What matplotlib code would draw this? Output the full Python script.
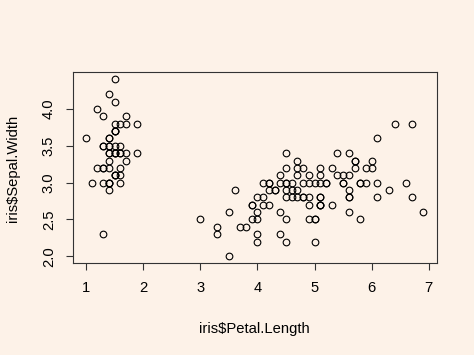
import numpy as np
import matplotlib.pyplot as plt

# -------------------------------------------------------
# Datos (iris: Petal.Length, Sepal.Width)
# -------------------------------------------------------

petal_length = [
    1.4, 1.4, 1.3, 1.5, 1.4, 1.7, 1.4, 1.5, 1.4, 1.5,
    1.5, 1.6, 1.4, 1.1, 1.2, 1.5, 1.3, 1.4, 1.7, 1.5,
    1.7, 1.5, 1.0, 1.7, 1.9, 1.6, 1.6, 1.5, 1.4, 1.6,
    1.6, 1.5, 1.5, 1.4, 1.5, 1.2, 1.3, 1.4, 1.3, 1.5,
    1.3, 1.3, 1.3, 1.6, 1.9, 1.4, 1.6, 1.4, 1.5, 1.4,
    4.7, 4.5, 4.9, 4.0, 4.6, 4.5, 4.7, 3.3, 4.6, 3.9,
    3.5, 4.2, 4.0, 4.7, 3.6, 4.4, 4.5, 4.1, 4.5, 3.9,
    4.8, 4.0, 4.9, 4.7, 4.3, 4.4, 4.8, 5.0, 4.5, 3.5,
    3.8, 3.7, 3.9, 5.1, 4.5, 4.5, 4.7, 4.4, 4.1, 4.0,
    4.4, 4.6, 4.0, 3.3, 4.2, 4.2, 4.2, 4.3, 3.0, 4.1,
    6.0, 5.1, 5.9, 5.6, 5.8, 6.6, 4.5, 6.3, 5.8, 6.1,
    5.1, 5.3, 5.5, 5.0, 5.1, 5.3, 5.5, 6.7, 6.9, 5.0,
    5.7, 4.9, 6.7, 4.9, 5.7, 6.0, 4.8, 4.9, 5.6, 5.8,
    6.1, 6.4, 5.6, 5.1, 5.6, 6.1, 5.6, 5.5, 4.8, 5.4,
    5.6, 5.1, 5.1, 5.9, 5.7, 5.2, 5.0, 5.2, 5.4, 5.1,
]

sepal_width = [
    3.5, 3.0, 3.2, 3.1, 3.6, 3.9, 3.4, 3.4, 2.9, 3.1,
    3.7, 3.4, 3.0, 3.0, 4.0, 4.4, 3.9, 3.5, 3.8, 3.8,
    3.4, 3.7, 3.6, 3.3, 3.4, 3.0, 3.4, 3.5, 3.4, 3.2,
    3.1, 3.4, 4.1, 4.2, 3.1, 3.2, 3.5, 3.6, 3.0, 3.4,
    3.5, 2.3, 3.2, 3.5, 3.8, 3.0, 3.8, 3.2, 3.7, 3.3,
    3.2, 3.2, 3.1, 2.3, 2.8, 2.8, 3.3, 2.4, 2.9, 2.7,
    2.0, 3.0, 2.2, 2.9, 2.9, 3.1, 3.0, 2.7, 2.2, 2.5,
    3.2, 2.8, 2.5, 2.8, 2.9, 3.0, 2.8, 3.0, 2.9, 2.6,
    2.4, 2.4, 2.7, 2.7, 3.0, 3.4, 3.1, 2.3, 3.0, 2.5,
    2.6, 3.0, 2.6, 2.3, 2.7, 3.0, 2.9, 2.9, 2.5, 2.8,
    3.3, 2.7, 3.0, 2.9, 3.0, 3.0, 2.5, 2.9, 2.5, 3.6,
    3.2, 2.7, 3.0, 2.5, 2.8, 3.2, 3.0, 3.8, 2.6, 2.2,
    3.2, 2.8, 2.8, 2.7, 3.3, 3.2, 2.8, 3.0, 2.8, 3.0,
    2.8, 3.8, 2.8, 2.8, 2.6, 3.0, 3.4, 3.1, 3.0, 3.1,
    3.1, 3.1, 2.7, 3.2, 3.3, 3.0, 2.5, 3.0, 3.4, 3.0,
]

x_ticks = [1, 2, 3, 4, 5, 6, 7]
y_ticks = [2.0, 2.5, 3.0, 3.5, 4.0]

FONDO = "#fdf2e8"
TAM = 10.6

plt.rcParams["font.family"] = ["Liberation Sans", "DejaVu Sans"]

fig = plt.figure(figsize=(4.74, 3.55), dpi=100, facecolor=FONDO)
ax = fig.add_axes([0.153, 0.258, 0.768, 0.538], facecolor=FONDO)

x = np.array(petal_length)
y = np.array(sepal_width)

ax.plot(
    x,
    y,
    "o",
    markersize=4.8,
    markerfacecolor="none",
    markeredgecolor="black",
    markeredgewidth=0.8,
)

# límites al estilo R (4% extra)
dx = (x.max() - x.min()) * 0.04
dy = (y.max() - y.min()) * 0.04
ax.set_xlim(x.min() - dx, x.max() + dx)
ax.set_ylim(y.min() - dy, y.max() + dy)

ax.set_xticks(x_ticks)
ax.set_xticklabels([str(t) for t in x_ticks])
ax.set_yticks(y_ticks)
ax.set_yticklabels([f"{t:.1f}" for t in y_ticks], rotation=90, va="center")

ax.tick_params(
    direction="out",
    length=5,
    width=0.8,
    labelsize=TAM,
    color="#333333",
)
ax.tick_params(axis="x", pad=8)
ax.tick_params(axis="y", pad=7)

for s in ax.spines.values():
    s.set_linewidth(0.8)
    s.set_color("#333333")

ax.set_xlabel("iris$Petal.Length", fontsize=TAM, labelpad=19)
ax.set_ylabel("iris$Sepal.Width", fontsize=TAM, labelpad=16)

fig.savefig("out.png", dpi=100, facecolor=FONDO)
